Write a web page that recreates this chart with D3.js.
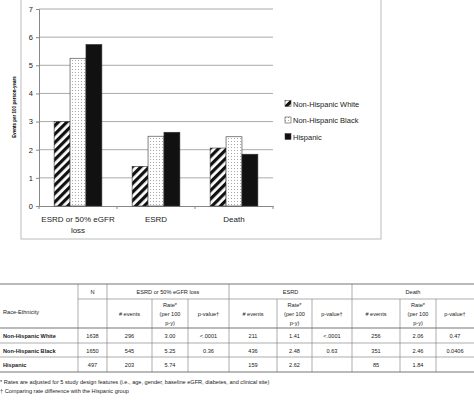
<!DOCTYPE html><html><head><meta charset="utf-8">
<script src="https://cdn.jsdelivr.net/npm/d3@7"></script>
<style>body{margin:0;background:#fff}text{font-family:"Liberation Sans",Arial,sans-serif}</style></head><body>
<svg id="s" width="474" height="405"></svg>
<script>
const categories=["ESRD or 50% eGFR loss","ESRD","Death"];
const series=["Non-Hispanic White","Non-Hispanic Black","Hispanic"];
const white=[3.00,1.41,2.06];
const black=[5.25,2.48,2.46];
const hisp=[5.74,2.62,1.84];
const yTicks=[0,1,2,3,4,5,6,7];
const tableRows=[
["Non-Hispanic White","1638","296","3.00","<.0001","211","1.41","<.0001","256","2.06","0.47"],
["Non-Hispanic Black","1650","545","5.25","0.36","436","2.48","0.63","351","2.46","0.0406"],
["Hispanic","497","203","5.74","","159","2.62","","85","1.84",""]];
const svg=d3.select("#s");
const defs=svg.append("defs");
const p1=defs.append("pattern").attr("id","hatch").attr("patternUnits","userSpaceOnUse").attr("width",6).attr("height",6).attr("patternTransform","rotate(45)");
p1.append("rect").attr("width",6).attr("height",6).attr("fill","#fff");
p1.append("rect").attr("width",3.2).attr("height",6).attr("fill","#111");
const p2=defs.append("pattern").attr("id","dots").attr("patternUnits","userSpaceOnUse").attr("width",3).attr("height",3);
p2.append("rect").attr("width",3).attr("height",3).attr("fill","#fff");
p2.append("rect").attr("width",1).attr("height",1).attr("fill","#aaa");
const fills=["url(#hatch)","url(#dots)","#111"];
svg.append("rect").attr("x",21).attr("y",-2).attr("width",360).attr("height",241).attr("fill","none").attr("stroke","#bbb");
const x=d3.scaleBand().domain(categories).range([39,273]);
const y=d3.scaleLinear().domain([0,7]).range([206,9]);
const g=svg.append("g");
g.selectAll(".gl").data(yTicks.slice(1)).join("line").attr("x1",39).attr("x2",273).attr("y1",d=>y(d)).attr("y2",d=>y(d)).attr("stroke","#aaa");
const ya=svg.append("g").attr("transform","translate(39,0)").call(d3.axisLeft(y).tickValues(yTicks).tickFormat(d3.format("d")).tickSize(3));
ya.select(".domain").attr("stroke","#888");ya.selectAll("text").attr("font-size",7.5).attr("fill","#222");ya.selectAll("line").attr("stroke","#888");
const xa=svg.append("g").attr("transform","translate(0,206)").call(d3.axisBottom(x).tickSize(0));
xa.select(".domain").attr("stroke","#888");xa.selectAll("text").remove();
[39,117,195,273].forEach(v=>svg.append("line").attr("x1",v).attr("x2",v).attr("y1",206).attr("y2",209).attr("stroke","#888"));
const xs=d3.scaleBand().domain(series).range([0,x.bandwidth()]).paddingOuter(0.95).paddingInner(0);
const data=[white,black,hisp];
series.forEach((s,i)=>{
 svg.selectAll(".b"+i).data(categories).join("rect").attr("x",c=>x(c)+xs(s)).attr("width",xs.bandwidth())
 .attr("y",(c,j)=>y(data[i][j])).attr("height",(c,j)=>206-y(data[i][j])).attr("fill",fills[i]).attr("stroke","#333").attr("stroke-width",0.6);
});
const lab=[["ESRD or 50% eGFR","loss"],["ESRD"],["Death"]];
categories.forEach((c,i)=>{lab[i].forEach((t,k)=>svg.append("text").attr("x",x(c)+x.bandwidth()/2).attr("y",222+k*11).attr("text-anchor","middle").attr("font-size",8).attr("fill","#222").text(t));});
svg.append("text").attr("transform","translate(16,107) rotate(-90)").attr("text-anchor","middle").attr("font-size",4.5).attr("font-weight","bold").text("Events per 100 person-years");
series.forEach((s,i)=>{const ly=104+i*16.5;
 svg.append("rect").attr("x",285).attr("y",ly-3.5).attr("width",6).attr("height",6).attr("fill",fills[i]).attr("stroke","#333").attr("stroke-width",0.5);
 svg.append("text").attr("x",293).attr("y",ly+2.5).attr("font-size",7.5).attr("fill","#222").text(s);});
const cols=[0,78,107,152,188,229,277,312,352,400,436,474];
const rY=[284,299,328,343,357,372];
const T=svg.append("g").attr("font-size",5.6).attr("fill","#222");
const ln=(x1,y1,x2,y2,w)=>T.append("line").attr("x1",x1).attr("y1",y1).attr("x2",x2).attr("y2",y2).attr("stroke","#777").attr("stroke-width",w||0.6);
ln(0,rY[0],474,rY[0],1.2);ln(78,rY[1],474,rY[1]);ln(0,rY[2],474,rY[2],1.2);ln(0,rY[3],474,rY[3]);ln(0,rY[4],474,rY[4]);ln(0,rY[5],474,rY[5],1.2);
[78,107,229,352].forEach(v=>ln(v,rY[0],v,rY[5]));
[152,188,277,312,400,436].forEach(v=>ln(v,rY[1],v,rY[5]));
const tx=(xx,yy,t,a)=>T.append("text").attr("x",xx).attr("y",yy).attr("text-anchor",a||"middle").text(t);
tx(3,314,"Race-Ethnicity","start");tx(92.5,294,"N");
tx(168,294,"ESRD or 50% eGFR loss");tx(290.5,294,"ESRD");tx(413,294,"Death");
[[107,152,229],[229,277,352],[352,400,474]].forEach(([a,b,c])=>{
 const m=(a+cols[cols.indexOf(a)+1])/2;
 tx(m,316,"# events");
 const r=(b+cols[cols.indexOf(b)+1])/2;
 tx(r,307,"Rate*");tx(r,316,"(per 100");tx(r,325,"p-y)");
 const p=(cols[cols.indexOf(b)+1]+c)/2;tx(p,316,"p-value†");
});
tableRows.forEach((row,i)=>{const yy=rY[i+2]+10;
 row.forEach((v,k)=>{ if(k==0) tx(3,yy,v,"start").attr("font-weight","bold"); else tx((cols[k]+cols[k+1])/2,yy,v);});});
tx(0,384,"* Rates are adjusted for 5 study design features (i.e., age, gender, baseline eGFR, diabetes, and clinical site)","start");
tx(0,393,"† Comparing rate difference with the Hispanic group","start");
</script></body></html>
